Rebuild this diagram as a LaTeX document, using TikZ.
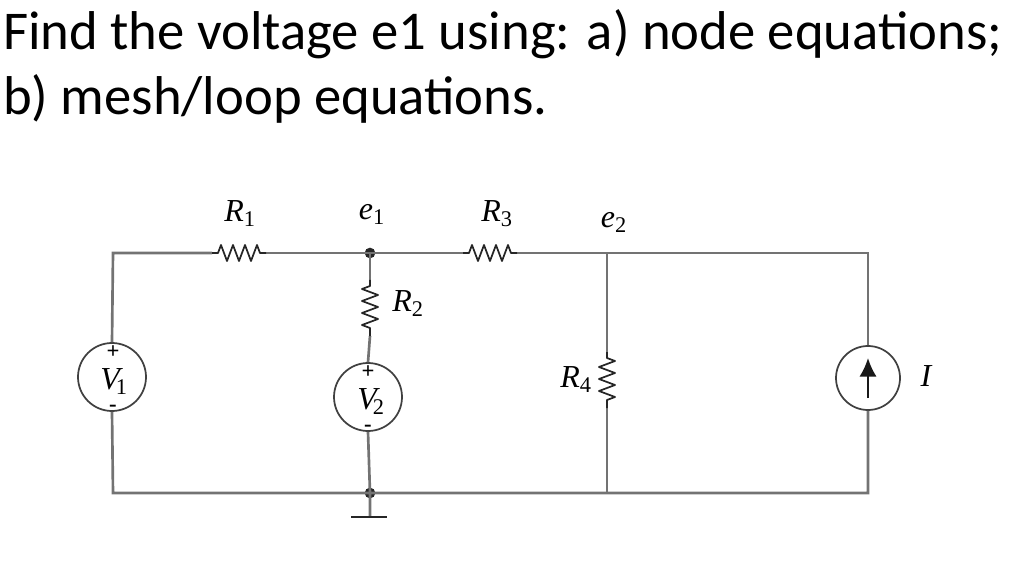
\documentclass[tikz,border=0pt]{standalone}
\usepackage{fontspec}
\usetikzlibrary{arrows.meta}
\setmainfont{Carlito}
\newfontfamily\cirf{Liberation Serif}
\begin{document}
\begin{tikzpicture}[x=0.75pt,y=-0.75pt,
 wire/.style={line width=2pt,draw=black!55},
 res/.style={line width=1.3pt,draw=black!85,line join=round},
 src/.style={circle,draw=black!75,line width=1.3pt,minimum size=51pt,inner sep=0pt},
 lab/.style={font=\cirf\itshape\fontsize{24}{24}\selectfont,inner sep=0pt},
 vlab/.style={font=\cirf\itshape\fontsize{24}{24}\selectfont,inner sep=0pt},
 pm/.style={font=\cirf\bfseries\fontsize{17}{17}\selectfont,inner sep=0pt},
 dot/.style={circle,fill=black!85,minimum size=8pt,inner sep=0pt}]
\useasboundingbox (0,0) rectangle (1024,577);
\node[anchor=base west,font=\fontsize{41}{41}\selectfont,inner sep=0pt] (t1) at (3,50) {Find the voltage e1 using: a) node equations;};
\node[anchor=base west,font=\fontsize{41}{41}\selectfont,inner sep=0pt] (t2) at (3,115) {b) mesh/loop equations.};
% coordinates
\coordinate (tl) at (113,253); \coordinate (bl) at (113,493);
\coordinate (r1a) at (212,253); \coordinate (r1b) at (266,253);
\node[dot] (e1) at (370,253) {};
\coordinate (r2a) at (370,280); \coordinate (r2b) at (370,336);
\coordinate (r3a) at (463,253); \coordinate (r3b) at (517,253);
\coordinate (e2) at (607,253);
\coordinate (r4a) at (607,352); \coordinate (r4b) at (607,408);
\coordinate (tr) at (868,253); \coordinate (br) at (868,493);
\coordinate (b2) at (607,493);
\node[dot] (gnd) at (370,493) {};
\coordinate (gb) at (370,517);
\node[src] (V1) at (112,377) {};
\node[src] (V2) at (368,397) {};
\node[src,minimum size=48pt] (I) at (868,378) {};
% wires
\draw[wire] (V1.north) -- (tl) -- (r1a);
\draw[wire] (r1b) -- (e1.center) -- (r3a);
\draw[wire] (r3b) -- (tr) -- (I.north);
\draw[wire] (I.south) -- (br) -- (bl) -- (V1.south);
\draw[wire] (e1.center) -- (r2a);
\draw[wire] (r2b) -- (V2.north);
\draw[wire] (V2.south) -- (gnd.center) -- (gb);
\draw[line width=1.8pt,black!85] (351,517) -- (387,517);
\draw[wire] (e2) -- (r4a); \draw[wire] (r4b) -- (b2);
% resistors
\draw[res] (r1a) -- ++(6,0) -- ++(3,-8) -- ++(6,16) -- ++(6,-16) -- ++(6,16) -- ++(6,-16) -- ++(6,16) -- ++(6,-16) -- ++(3,8) -- (r1b);
\draw[res] (r3a) -- ++(6,0) -- ++(3,-8) -- ++(6,16) -- ++(6,-16) -- ++(6,16) -- ++(6,-16) -- ++(6,16) -- ++(6,-16) -- ++(3,8) -- (r3b);
\draw[res] (r2a) -- ++(0,6) -- ++(-8,3) -- ++(16,6) -- ++(-16,6) -- ++(16,6) -- ++(-16,6) -- ++(16,6) -- ++(-16,6) -- ++(8,3) -- (r2b);
\draw[res] (r4a) -- ++(0,6) -- ++(8,3) -- ++(-16,6) -- ++(16,6) -- ++(-16,6) -- ++(16,6) -- ++(-16,6) -- ++(16,6) -- ++(-8,3) -- (r4b);
% source marks
\node[pm] at (113,352) {+}; \node[pm] at (113,408) {-};
\node[vlab] at (114,382) {V\kern-3pt\textsubscript{\upshape 1}};
\node[pm] at (368,372) {+}; \node[pm] at (368,428) {-};
\node[vlab] at (371,402) {V\kern-3pt\textsubscript{\upshape 2}};
\draw[line width=1.6pt,black!90,-{Latex[length=14pt,width=13pt]}] (868,398) -- (868,358);
% labels
\node[lab] at (240,214) {R\textsubscript{\upshape 1}};
\node[lab] at (372,214) {e\textsubscript{\upshape 1}};
\node[lab] at (497,214) {R\textsubscript{\upshape 3}};
\node[lab] at (614,222) {e\textsubscript{\upshape 2}};
\node[lab] at (408,304) {R\textsubscript{\upshape 2}};
\node[lab] at (576,380) {R\textsubscript{\upshape 4}};
\node[lab] at (926,376) {I};
\end{tikzpicture}
\end{document}
